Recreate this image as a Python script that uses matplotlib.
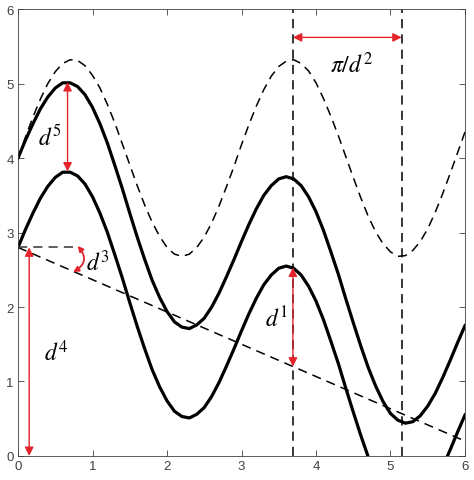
import matplotlib
matplotlib.use('Agg')
import matplotlib.pyplot as plt
import numpy as np

x = np.round(np.arange(0, 6.01, 0.1), 2)
dashed = [4.00, 4.28, 4.55, 4.79, 5.00, 5.16, 5.27, 5.32, 5.31, 5.24, 5.11, 4.94, 4.72, 4.47, 4.19, 3.91,
          3.63, 3.37, 3.14, 2.95, 2.80, 2.71, 2.68, 2.71, 2.80, 2.94, 3.13, 3.36, 3.62, 3.89, 4.18, 4.45,
          4.70, 4.92, 5.10, 5.23, 5.30, 5.32, 5.27, 5.17, 5.01, 4.80, 4.56, 4.30, 4.02, 3.74, 3.47, 3.22,
          3.01, 2.85, 2.74, 2.68, 2.69, 2.76, 2.88, 3.05, 3.27, 3.52, 3.79, 4.07, 4.35]
lower = [2.80, 3.04, 3.26, 3.46, 3.62, 3.74, 3.81, 3.81, 3.76, 3.65, 3.48, 3.26, 3.00, 2.70, 2.39, 2.06,
         1.74, 1.44, 1.16, 0.93, 0.74, 0.60, 0.53, 0.51, 0.56, 0.65, 0.80, 0.99, 1.21, 1.44, 1.68, 1.91,
         2.12, 2.30, 2.43, 2.52, 2.55, 2.52, 2.43, 2.28, 2.08, 1.83, 1.54, 1.24, 0.91, 0.59, 0.28, -0.01,
         -0.26, -0.47, -0.63, -0.72, -0.76, -0.74, -0.66, -0.53, -0.36, -0.15, 0.08, 0.32, 0.55]
upper = [4.00, 4.24, 4.46, 4.66, 4.82, 4.94, 5.01, 5.01, 4.96, 4.85, 4.68, 4.46, 4.20, 3.90, 3.59, 3.26,
         2.94, 2.64, 2.36, 2.13, 1.94, 1.80, 1.73, 1.71, 1.76, 1.85, 2.00, 2.19, 2.41, 2.64, 2.88, 3.11,
         3.32, 3.50, 3.63, 3.72, 3.75, 3.72, 3.63, 3.48, 3.28, 3.03, 2.74, 2.44, 2.11, 1.79, 1.48, 1.19,
         0.94, 0.73, 0.57, 0.48, 0.44, 0.46, 0.54, 0.67, 0.84, 1.05, 1.28, 1.52, 1.75]

trend_x = [0, 6]
trend_y = [2.8, 0.2]
peak_x = 3.69
trough_x = 5.15
red = '#e3242b'

plt.rcParams['mathtext.fontset'] = 'stix'
fig = plt.figure(figsize=(4.74, 4.81), dpi=100)
ax = fig.add_axes([0.038, 0.05, 0.943, 0.929])

dash = (0, (6, 4))
ax.plot(x, dashed, color='k', lw=1.1, ls=dash)
ax.plot(x, upper, color='k', lw=2.3)
ax.plot(x, lower, color='k', lw=2.3)
ax.plot(trend_x, trend_y, color='k', lw=1.1, ls=dash)
ax.plot([0, 0.8], [2.8, 2.8], color='#333333', lw=1.1, ls=dash)
ax.plot([peak_x, peak_x], [0, 6], color='k', lw=1.1, ls=dash)
ax.plot([trough_x, trough_x], [0, 6], color='k', lw=1.1, ls=dash)

aprops = dict(arrowstyle='<|-|>', color=red, lw=1.0, mutation_scale=13, shrinkA=0, shrinkB=0)
ax.annotate('', xy=(0.665, 3.82), xytext=(0.665, 5.02), arrowprops=aprops)
ax.annotate('', xy=(0.15, 0.0), xytext=(0.15, 2.8), arrowprops=aprops)
ax.annotate('', xy=(peak_x, 1.2), xytext=(peak_x, 2.53), arrowprops=aprops)
ax.annotate('', xy=(trough_x, 5.62), xytext=(peak_x, 5.62), arrowprops=aprops)
ax.annotate('', xy=(0.74, 2.47), xytext=(0.8, 2.82),
            arrowprops=dict(aprops, mutation_scale=8, lw=1.3,
                            connectionstyle='arc3,rad=-0.6'))

fs = 17
ax.text(0.43, 4.29, r'$d^5$', fontsize=fs, ha='center', va='center')
ax.text(1.07, 2.6, r'$d^3$', fontsize=fs, ha='center', va='center')
ax.text(0.52, 1.39, r'$d^4$', fontsize=fs, ha='center', va='center')
ax.text(3.47, 1.84, r'$d^1$', fontsize=fs, ha='center', va='center')
ax.text(4.48, 5.26, r'$\pi/d^2$', fontsize=fs, ha='center', va='center')

ax.set_xlim(0, 6)
ax.set_ylim(0, 6)
ax.set_xticks(range(7))
ax.set_yticks(range(7))
ax.tick_params(direction='in', top=True, right=True, length=4, width=0.6,
               colors='#404040', labelsize=9.5, pad=3)
for lab in ax.get_xticklabels() + ax.get_yticklabels():
    lab.set_family('Liberation Sans')
for sp in ax.spines.values():
    sp.set_color('#404040')
    sp.set_linewidth(0.6)

fig.savefig('out.png', dpi=100)
